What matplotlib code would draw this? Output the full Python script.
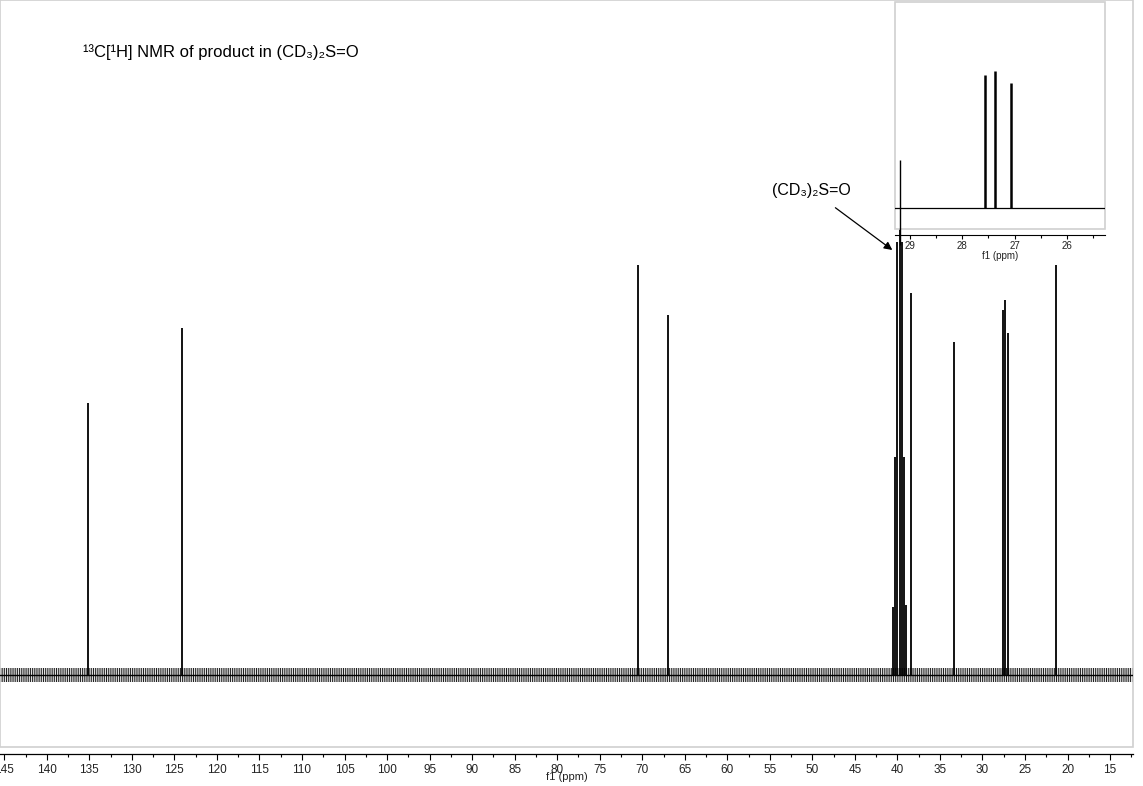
import matplotlib.pyplot as plt
from matplotlib.patches import Rectangle

plt.rcParams['font.family'] = ['Liberation Sans', 'DejaVu Sans']
plt.rcParams['hatch.linewidth'] = 0.7

# peak list (ppm, height above baseline)
peak_ppm = [135.2, 124.1, 70.5, 67.0,
            40.52, 40.26, 40.0, 39.75, 39.49, 39.23, 38.97,
            38.4, 33.35, 27.56, 27.38, 27.06, 21.35]
peak_height = [272, 347, 410, 360,
               68, 218, 433, 515, 433, 218, 70,
               382, 333, 365, 375, 342, 410]

# zoomed region shown in the inset
inset_ppm = [27.56, 27.38, 27.06]
inset_height = [133, 137, 125]

main_ticks = list(range(145, 14, -5))
inset_ticks = [29, 28, 27, 26]
title = '\u00b9\u00b3C[\u00b9H] NMR of product in (CD\u2083)\u2082S=O'
solvent = '(CD\u2083)\u2082S=O'

fig = plt.figure(figsize=(11.43, 7.86), dpi=100)
ax = fig.add_axes([0.0, 0.0496, 0.9913, 0.9504])

# noisy baseline, drawn as a dense band
ax.fill_between([145.5, 12.3], -7, 7, facecolor='none', edgecolor='#1a1a1a',
                hatch='|||||||||', linewidth=0)
ax.axhline(0, color='black', lw=1.0)
ax.vlines(peak_ppm, 0, peak_height, color='black', lw=1.3)

ax.set_xlim(145.5, 12.3)
ax.set_ylim(-72, 675)
ax.set_yticks([])
ax.set_xticks(main_ticks)
ax.set_xticks([t - 2.5 for t in main_ticks], minor=True)
ax.tick_params(axis='x', which='major', length=4, width=0.8, labelsize=8.5, pad=3,
               labelcolor='#222222')
ax.tick_params(axis='x', which='minor', length=2.5, width=0.8)
for s in ['top', 'left', 'right']:
    ax.spines[s].set_visible(False)
ax.spines['bottom'].set_position(('outward', 5))
ax.spines['bottom'].set_linewidth(0.9)
ax.add_patch(Rectangle((0, 0), 1, 1, transform=ax.transAxes, fill=False,
                       edgecolor='#d0d0d0', lw=1.2, clip_on=False))
ax.set_xlabel('f1 (ppm)', fontsize=8, labelpad=-2.5, color='#222222')

fig.text(0.0726, 0.934, title, fontsize=12, va='center', ha='left')
ax.annotate(solvent, xy=(40.6, 425), xytext=(50.1, 485),
            fontsize=11.5, ha='center', va='center',
            arrowprops=dict(arrowstyle='-|>', color='black', lw=0.9,
                            shrinkA=9, shrinkB=0, mutation_scale=12))

# inset
ins = fig.add_axes([0.783, 0.7087, 0.1837, 0.2888])
ins.axhline(0, color='black', lw=0.9)
ins.vlines(inset_ppm, 0, inset_height, color='black', lw=1.8)
ins.set_xlim(29.29, 25.27)
ins.set_ylim(-21, 206)
ins.set_yticks([])
ins.set_xticks(inset_ticks)
ins.set_xticks([t - 0.5 for t in inset_ticks], minor=True)
ins.tick_params(axis='x', which='major', length=3, width=0.8, labelsize=7, pad=2,
                labelcolor='#222222')
ins.tick_params(axis='x', which='minor', length=2, width=0.8)
for s in ['top', 'left', 'right']:
    ins.spines[s].set_visible(False)
ins.spines['bottom'].set_position(('outward', 4))
ins.add_patch(Rectangle((0, 0), 1, 1, transform=ins.transAxes, fill=False,
                        edgecolor='#d0d0d0', lw=1.2, clip_on=False))
ins.set_xlabel('f1 (ppm)', fontsize=7, labelpad=-0.5, color='#222222')

# tallest solvent line runs over the inset
ins.vlines(peak_ppm[7], 430, peak_height[7], color='black', lw=1.0,
           transform=ax.transData, clip_on=False)

fig.savefig('out.png', dpi=100)
